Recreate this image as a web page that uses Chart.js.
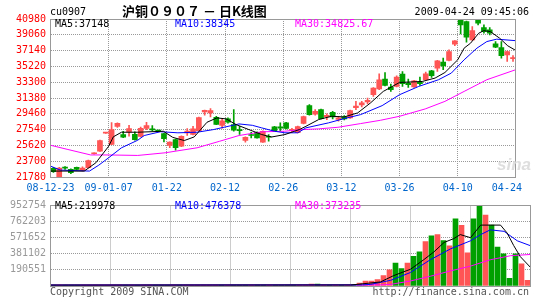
<!DOCTYPE html>
<html>
<head>
<meta charset="utf-8">
<script src="https://cdn.jsdelivr.net/npm/chart.js@4.4.1/dist/chart.umd.min.js"></script>
<style>
  html, body { margin: 0; padding: 0; background: #fff; }
  #wrap { position: relative; width: 545px; height: 300px; overflow: hidden;
          font-family: 'DejaVu Sans Mono', monospace; font-size: 10px; }
  canvas { position: absolute; left: 0; }
  #priceChart { top: 0; }
  #volChart { top: 195px; }
  .txt { position: absolute; white-space: pre; line-height: 12px; }
</style>
</head>
<body>
<div id="wrap">
  <canvas id="priceChart" width="545" height="195"></canvas>
  <canvas id="volChart" width="545" height="105"></canvas>

  <div class="txt" style="left:50px;top:6px;">cu0907</div>
  <div class="txt" style="left:122px;top:1px;line-height:16px;font:bold 13px 'Noto Sans CJK SC';">沪铜０９０７ － 日K线图</div>
  <div class="txt" style="right:16px;top:6px;">2009-04-24 09:45:06</div>

  <div class="txt" style="left:55px;top:18px;color:#000;">MA5:37148</div>
  <div class="txt" style="left:175px;top:18px;color:#0000ff;">MA10:38345</div>
  <div class="txt" style="left:295px;top:18px;color:#ff00ff;">MA30:34825.67</div>

  <div class="txt" style="left:497px;top:155px;line-height:20px;color:#dedede;font:italic bold 17px 'Liberation Sans';">sina</div>

  <div class="txt" style="left:55px;top:200px;color:#000;">MA5:219978</div>
  <div class="txt" style="left:175px;top:200px;color:#0000ff;">MA10:476378</div>
  <div class="txt" style="left:295px;top:200px;color:#ff00ff;">MA30:373235</div>

  <div class="txt" style="left:50px;top:286px;color:#555;">Copyright 2009 SINA.COM</div>
  <div class="txt" style="right:16px;top:286px;color:#555;">http://finance.sina.com.cn</div>
</div>

<script>
// x axis: one slot per trading day, labels every 10 slots
const dateTicks = [0, 10, 20, 30, 40, 50, 60, 70, 80];
const dateLabels = ['08-12-23', '09-01-07', '01-22', '02-12', '02-26', '03-12', '03-26', '04-10', '04-24'];

const priceTicks = [21780, 23700, 25620, 27540, 29460, 31380, 33300, 35220, 37140, 39060, 40980];
const volTicks = [0, 190551, 381102, 571652, 762203, 952754];

const opens = [
  22820, 21790, 22950, 22700, 22940, 22580, 22910, 24600, 24920, 27110,
  25730, 27940, 26940, 27270, 26980, 26700, 27670, 27630, 27420, 27060,
  25610, 26330, 25520, 27150, 26940, 27420, 29690, 29570, 29030, 28060,
  28840, 28150, 27540, 26210, 26940, 27220, 26010, 26730, 27880, 27880,
  28360, 27460, 27180, 28280, 30450, 29400, 29970, 29080, 29640, 28790,
  29080, 28960, 30210, 30540, 30900, 31780, 32470, 33680, 32720, 32790,
  34290, 33200, 32720, 33320, 33600, 34690, 35010, 35740, 35940, 37920,
  40870, 40660, 38440, 40870, 39930, 39650, 37960, 37510, 36630, 36170
];
const highs = [
  22940, 22940, 23050, 22760, 22990, 23030, 23850, 24720, 26260, 27220,
  28390, 28350, 27340, 28060, 27270, 27850, 28430, 28030, 27480, 27100,
  26060, 26380, 26780, 27670, 27940, 29050, 29900, 30090, 29150, 28840,
  28960, 29970, 27940, 26650, 27220, 27260, 27380, 26940, 27940, 28360,
  28420, 27700, 27960, 29170, 30570, 29970, 30020, 29450, 29760, 29150,
  29230, 29900, 30970, 30970, 31380, 32640, 34330, 34480, 33080, 34080,
  34600, 33680, 33530, 33930, 34530, 34740, 35950, 36230, 37230, 38370,
  40920, 40720, 40050, 40980, 40260, 39930, 38240, 38240, 37080, 36540
];
const lows = [
  22340, 21780, 22700, 22180, 22650, 22530, 22880, 24560, 24880, 27080,
  25700, 27820, 26560, 26730, 26250, 26650, 27540, 27420, 27300, 26050,
  25330, 25040, 25480, 26820, 26900, 27380, 29280, 29080, 28130, 27700,
  28310, 27340, 26940, 26010, 26540, 26500, 25970, 26130, 27290, 27420,
  27620, 27220, 27130, 28230, 29300, 29280, 28840, 28750, 28840, 28550,
  28710, 28900, 29970, 30290, 30690, 31580, 32400, 32850, 32180, 32740,
  32790, 32670, 32670, 32910, 33550, 33880, 34600, 34810, 35890, 37750,
  39170, 38160, 38380, 40260, 39250, 39050, 37510, 36230, 35820, 35820
];
const closes = [
  22420, 22860, 22850, 22300, 22700, 22860, 23790, 24680, 26210, 27180,
  27540, 28300, 26610, 27670, 26330, 27700, 28030, 27510, 27350, 26450,
  26010, 25330, 26730, 27350, 27630, 28990, 29870, 29850, 28180, 28600,
  28430, 27460, 27420, 26610, 26820, 26540, 27340, 26610, 27340, 27710,
  27670, 27580, 27910, 29120, 29360, 29760, 28880, 29280, 29080, 28960,
  28840, 29840, 30410, 30780, 31090, 32590, 33600, 32910, 32390, 33930,
  33110, 33000, 33480, 33110, 34330, 34080, 35900, 35290, 37030, 38320,
  40260, 38770, 39570, 40470, 39450, 39250, 37560, 36510, 37030, 36270
];
const volumes = [
  11000, 12000, 10000, 11000, 10000, 11000, 12000, 10000, 11000, 10000,
  12000, 11000, 10000, 11000, 10000, 12000, 11000, 10000, 11000, 10000,
  11000, 10000, 12000, 11000, 10000, 11000, 12000, 10000, 11000, 10000,
  11000, 12000, 10000, 11000, 10000, 11000, 12000, 10000, 11000, 10000,
  11000, 12000, 11000, 22000, 22000, 12000, 11000, 12000, 11000, 12000,
  12000, 33600, 59400, 59400, 75100, 123300, 190600, 272400, 205100, 272400,
  350800, 403500, 526800, 594100, 608700, 538000, 474100, 795800, 717400, 392300,
  795800, 952000, 840700, 720700, 459600, 381100, 89700, 381100, 261200, 67300
];

// moving-average lines (slot position, value)
const ma5Pos = [0, 5.8, 7.8, 10, 10.8, 12.2, 15, 19.4, 21, 23, 24.7, 25.8, 26.9, 28.6, 30.2, 31.9, 34.1, 36.3, 38, 40.3,
  42.8, 43.9, 46.1, 48.3, 50.5, 52.8, 55, 57.2, 60, 63.9, 66.1, 67.8, 70, 71.1, 72.2, 73.6, 74.5, 75.6, 77.2, 78.6, 80];
const ma5Val = [22500, 22500, 23510, 25520, 26660, 27220, 27220, 27340, 26600, 26210, 26650, 27540, 28430, 28960, 28840, 28150, 27540, 26940, 26640, 26940,
  27550, 27940, 28760, 29160, 29080, 29570, 30780, 32180, 33270, 33390, 33800, 34480, 36020, 37440, 38040, 39250, 39570, 39450, 38650, 37720, 37148];
const ma10Pos = [0, 1.7, 6.7, 8.3, 10, 12.2, 15, 16.1, 18.9, 21.9, 25.2, 28, 32.4, 34.7, 36.3, 38.5, 40.3, 42.5, 43.9, 47.8,
  50.5, 53.3, 57, 60, 63.3, 66.7, 68.9, 71.1, 73.3, 75, 76.7, 80];
const ma10Val = [23100, 22620, 22500, 23220, 24120, 25330, 26250, 26820, 27280, 27150, 27220, 27540, 28230, 28060, 27750, 27340, 27150, 27150, 27750, 28360,
  28880, 29360, 30450, 31780, 32790, 33600, 34410, 36020, 37440, 38240, 38530, 38345];
const ma30Pos = [0, 3, 6.9, 10, 15, 19.7, 25.2, 29.1, 32.4, 36.3, 40.2, 43.3, 46.1, 49.4, 53.3, 56.7, 60, 64.4, 67.8, 71.1, 75, 80];
const ma30Val = [25640, 25120, 24460, 24460, 24400, 24720, 25330, 26130, 26820, 27270, 27340, 27540, 27630, 27820, 28270, 28670, 29160, 30050, 30970, 32180, 33600, 34826];

const vma5Pos = [0, 50, 51.1, 55, 57.2, 60, 62.2, 63.9, 65.6, 67.2, 68.3, 70, 71.7, 73.3, 75, 76.1, 77.2, 78.3, 80];
const vma5Val = [11000, 12000, 19000, 48200, 123300, 198400, 310500, 403500, 515600, 560500, 608600, 571700, 720700, 720700, 720700, 627700, 478600, 347500, 219978];
const vma10Pos = [0, 52, 53.3, 56.7, 60, 63.3, 66.7, 70, 71.7, 73.3, 75.6, 77.8, 80];
const vma10Val = [11000, 13000, 19000, 67300, 160300, 310500, 440500, 534700, 608600, 664700, 646800, 534700, 476378];
const vma30Pos = [0, 55, 56.7, 60, 63.3, 66.7, 70, 73.3, 76.7, 80];
const vma30Val = [11000, 13000, 19000, 59400, 115500, 179300, 235400, 310500, 358700, 373235];

const UP = '#ff5555';
const DOWN = '#00a000';
const MONO = 'DejaVu Sans Mono';

const candleColors = closes.map((c, i) => (c >= opens[i] ? UP : DOWN));
const pts = (pos, val) => pos.map((p, i) => ({ x: p, y: val[i] }));

const frame = {
  id: 'frame',
  afterDraw(chart) {
    const { ctx, chartArea: a } = chart;
    ctx.save();
    ctx.strokeStyle = '#999';
    ctx.lineWidth = 1;
    ctx.strokeRect(Math.floor(a.left) + 0.5, Math.floor(a.top) + 0.5,
      Math.round(a.right - a.left), Math.round(a.bottom - a.top));
    ctx.restore();
  },
};

function maLine(data, color) {
  return { type: 'line', data, borderColor: color, borderWidth: 1, pointRadius: 0, tension: 0, order: 0 };
}

function xScale(height, showLabels) {
  return {
    type: 'linear',
    min: 0,
    max: 80,
    offset: false,
    afterBuildTicks: (scale) => { scale.ticks = dateTicks.map((v) => ({ value: v })); },
    afterFit: (scale) => { scale.height = height; },
    grid: { color: '#999', offset: false, drawTicks: false },
    border: { display: false, dash: [1, 1] },
    ticks: {
      display: showLabels,
      autoSkip: false,
      maxRotation: 0,
      padding: 5,
      color: '#0066cc',
      font: { family: MONO, size: 10 },
      // last label is nudged left so it stays inside the picture
      callback: (v) => {
        const k = dateTicks.indexOf(v);
        return k === dateTicks.length - 1 ? dateLabels[k] + '   ' : dateLabels[k];
      },
    },
  };
}

function yScale(ticks, color, hideZero) {
  return {
    min: ticks[0],
    max: ticks[ticks.length - 1],
    afterBuildTicks: (scale) => { scale.ticks = ticks.map((v) => ({ value: v })); },
    afterFit: (scale) => { scale.width = 50; },
    grid: { color: '#999', drawTicks: false },
    border: { display: false, dash: [1, 1] },
    ticks: {
      padding: 4.5,
      color,
      font: { family: MONO, size: 10 },
      callback: (v) => (hideZero && v === 0 ? '' : String(v)),
    },
  };
}

const common = {
  responsive: false,
  animation: false,
  events: [],
  plugins: { legend: { display: false }, tooltip: { enabled: false } },
};

new Chart(document.getElementById('priceChart'), {
  type: 'bar',
  data: {
    datasets: [
      maLine(pts(ma5Pos, ma5Val), '#000000'),
      maLine(pts(ma10Pos, ma10Val), '#0000ff'),
      maLine(pts(ma30Pos, ma30Val), '#ff00ff'),
      {
        data: opens.map((o, i) => ({ x: i + 0.5, y: [o, closes[i]] })),
        backgroundColor: candleColors,
        barThickness: 5,
        minBarLength: 1,
        grouped: false,
        order: 1,
      },
      {
        data: highs.map((h, i) => ({ x: i + 0.5, y: [lows[i], h] })),
        backgroundColor: candleColors,
        barThickness: 1,
        grouped: false,
        order: 2,
      },
    ],
  },
  options: {
    ...common,
    layout: { padding: { left: 0.5, right: 14.5, top: 19, bottom: 0 } },
    scales: { x: xScale(18, true), y: yScale(priceTicks, '#ff0000', false) },
  },
  plugins: [frame],
});

new Chart(document.getElementById('volChart'), {
  type: 'bar',
  data: {
    datasets: [
      maLine(pts(vma5Pos, vma5Val), '#000000'),
      maLine(pts(vma10Pos, vma10Val), '#0000ff'),
      maLine(pts(vma30Pos, vma30Val), '#ff00ff'),
      {
        data: volumes.map((v, i) => ({ x: i + 0.5, y: v })),
        backgroundColor: candleColors,
        barThickness: 5,
        minBarLength: 1,
        grouped: false,
        order: 1,
      },
    ],
  },
  options: {
    ...common,
    layout: { padding: { left: 0.5, right: 14.5, top: 6, bottom: 0 } },
    scales: { x: xScale(14, false), y: yScale(volTicks, '#999999', true) },
  },
  plugins: [frame],
});
</script>
</body>
</html>
